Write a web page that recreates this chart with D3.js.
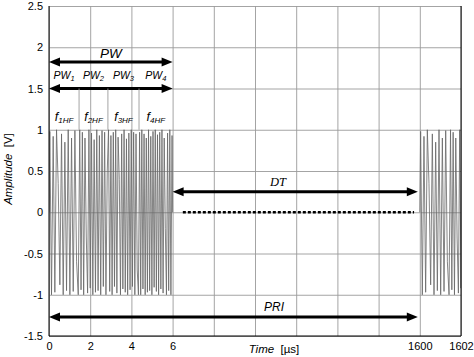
<!DOCTYPE html>
<html><head><meta charset="utf-8">
<script src="https://cdn.jsdelivr.net/npm/d3@7"></script>
<style>body{margin:0;background:#fff}svg{display:block}text{font-family:"Liberation Sans",Arial,sans-serif}</style>
</head><body><svg id="c" width="474" height="357"></svg>
<script>
// ---- data ----
const xTickLabels = ["0","2","4","6","","","","","","1600","1602"];
const yTickValues = [-1.5,-1,-0.5,0,0.5,1,1.5,2,2.5];
const yTickLabels = ["-1.5","-1","-0.5","0","0.5","1","1.5","2","2.5"];
const segBounds = [0,1.46,2.86,4.37,6];           // µs, sub-pulse boundaries
const segNames = ["1","2","3","4"];
const f1Peaks = [0.98,-1,0.92,-0.97,1,0.35,-0.88,0.95,-1,0.85,-0.95,1,-1,0.9,-0.96,0.99,-0.6,-1];
const f2Peaks = [1,-0.94,0.97,-1,0.9,-0.3,-0.98,1,-0.92,0.96,-1,0.88,-0.97,1,-0.95,0.93,-1,0.99,-0.9,0.97,-1,0.5];
const f3Peaks = [1,-0.96,0.93,-1,0.97,-0.9,1,-0.98,0.91,0.4,-1,0.95,-0.93,1,-0.97,0.89,-1,0.96,-0.94,1,-0.9,0.97,-1,0.95,-0.7,-1];
const f4Peaks = [0.97,-1,1,-0.93,0.95,-1,0.9,-0.97,1,-0.95,0.92,-1,0.98,-0.91,1,-0.96,0.94,-1,0.97,-0.93,1,-0.98,0.9,-0.2,-1,0.96,-0.95,1,-1,0.93];
const nextPulseStart = 1600;
const pwArrowY = 1.82, pw2ArrowY = 1.5, dtArrowY = 0.25, priArrowY = -1.27;
const dtDotted = [72, 1563];

// ---- layout ----
const svg = d3.select("#c");
const L=49, R=461, T=6, B=336;
const xUnit = d3.scaleLinear().domain([0,20]).range([L,R]);
const x = d3.scaleLinear().domain([0,6,1600,1602]).range([xUnit(0),xUnit(6),xUnit(18),xUnit(20)]);
const y = d3.scaleLinear().domain([-1.5,2.5]).range([B,T]);

svg.append("defs").append("clipPath").attr("id","clip")
  .append("rect").attr("x",L).attr("y",T).attr("width",R-L).attr("height",B-T);

// grid
const gx = svg.append("g").attr("transform",`translate(0,${B})`)
  .call(d3.axisBottom(xUnit).tickValues(d3.range(0,21,2)).tickFormat((d,i)=>xTickLabels[i]).tickSize(-(B-T)).tickPadding(6));
gx.select(".domain").remove();
gx.selectAll("line").attr("stroke","#9a9a9a").attr("stroke-width",0.9);
gx.selectAll("text").attr("font-size",11).attr("fill","#000");
const gy = svg.append("g").attr("transform",`translate(${L},0)`)
  .call(d3.axisLeft(y).tickValues(yTickValues).tickFormat((d,i)=>yTickLabels[i]).tickSize(-(R-L)).tickPadding(6));
gy.select(".domain").remove();
gy.selectAll("line").attr("stroke","#9a9a9a").attr("stroke-width",0.9);
gy.selectAll("text").attr("font-size",11).attr("fill","#000");

// waveform
const peaksList = [f1Peaks,f2Peaks,f3Peaks,f4Peaks];
function pulse(offset){
  const pts=[[offset,0]];
  peaksList.forEach((p,i)=>{
    const s=segBounds[i], e=segBounds[i+1];
    p.forEach((v,k)=>pts.push([offset+s+(k+0.5)/p.length*(e-s), v]));
  });
  pts.push([offset+6,0]);
  return pts;
}
const line = d3.line().x(d=>x(d[0])).y(d=>y(d[1]));
const wg = svg.append("g").attr("clip-path","url(#clip)");
wg.append("path").attr("d",line(pulse(0))).attr("fill","none").attr("stroke","#666").attr("stroke-width",0.8);
wg.append("path").attr("d",line(pulse(nextPulseStart))).attr("fill","none").attr("stroke","#666").attr("stroke-width",0.8);

// frame
svg.append("path").attr("d",`M${L},${T}V${B}H${R}V${T}`).attr("fill","none").attr("stroke","#000").attr("stroke-width",1);

// arrows
function arrow(x1,x2,yy,both){
  const g=svg.append("g");
  const hl=11, hw=4.5;
  const a=both?x1+hl-1:x1, b=x2-hl+1;
  g.append("line").attr("x1",a).attr("x2",b).attr("y1",yy).attr("y2",yy).attr("stroke","#000").attr("stroke-width",3);
  g.append("path").attr("d",`M${x2},${yy}L${x2-hl},${yy-hw}L${x2-hl},${yy+hw}Z`).attr("fill","#000");
  if(both) g.append("path").attr("d",`M${x1},${yy}L${x1+hl},${yy-hw}L${x1+hl},${yy+hw}Z`).attr("fill","#000");
}
arrow(x(0),x(6),y(pwArrowY),true);
arrow(x(0),x(6),y(pw2ArrowY),true);
arrow(x(6),x(1600)-2,y(dtArrowY),true);
arrow(x(0),x(1600)-2,y(priArrowY),true);

// dotted line
svg.append("line").attr("x1",x(dtDotted[0])).attr("x2",x(dtDotted[1])).attr("y1",y(0)).attr("y2",y(0))
  .attr("stroke","#000").attr("stroke-width",2.5).attr("stroke-dasharray","3,2");

// sub-pulse dividers
segBounds.slice(1,4).forEach(s=>{
  svg.append("line").attr("x1",x(s)).attr("x2",x(s)).attr("y1",y(1.5)).attr("y2",y(1)).attr("stroke","#9a9a9a").attr("stroke-width",0.9);
});

// labels
svg.append("text").attr("x",x(3)).attr("y",58).attr("text-anchor","middle").attr("font-size",13.5).attr("font-style","italic").text("PW");
segNames.forEach((n,i)=>{
  const cx = x((segBounds[i]+segBounds[i+1])/2);
  const t=svg.append("text").attr("x",cx).attr("y",79).attr("text-anchor","middle").attr("font-size",10.5).attr("font-style","italic");
  t.append("tspan").text("PW");
  t.append("tspan").attr("font-size",7.5).attr("dy",2).text(n);
  const f=svg.append("text").attr("x",cx).attr("y",121).attr("text-anchor","middle").attr("font-size",12.5).attr("font-style","italic");
  f.append("tspan").text("f");
  f.append("tspan").attr("font-size",8).attr("dy",2).text(n+"HF");
});
svg.append("text").attr("x",278).attr("y",186).attr("text-anchor","middle").attr("font-size",12.5).attr("font-style","italic")
  .style("font-family","'Liberation Serif','Times New Roman',serif").text("DT");
svg.append("text").attr("x",274).attr("y",311).attr("text-anchor","middle").attr("font-size",12).attr("font-style","italic").text("PRI");
const xl=svg.append("text").attr("x",274).attr("y",353).attr("text-anchor","middle").attr("font-size",11.5);
xl.append("tspan").attr("font-style","italic").text("Time");
xl.append("tspan").text("\u00a0\u00a0[µs]");
const yl=svg.append("text").attr("transform",`translate(12,169) rotate(-90)`).attr("text-anchor","middle").attr("font-size",11.5);
yl.append("tspan").attr("font-style","italic").text("Amplitude");
yl.append("tspan").text("\u00a0\u00a0[V]");
</script></body></html>
